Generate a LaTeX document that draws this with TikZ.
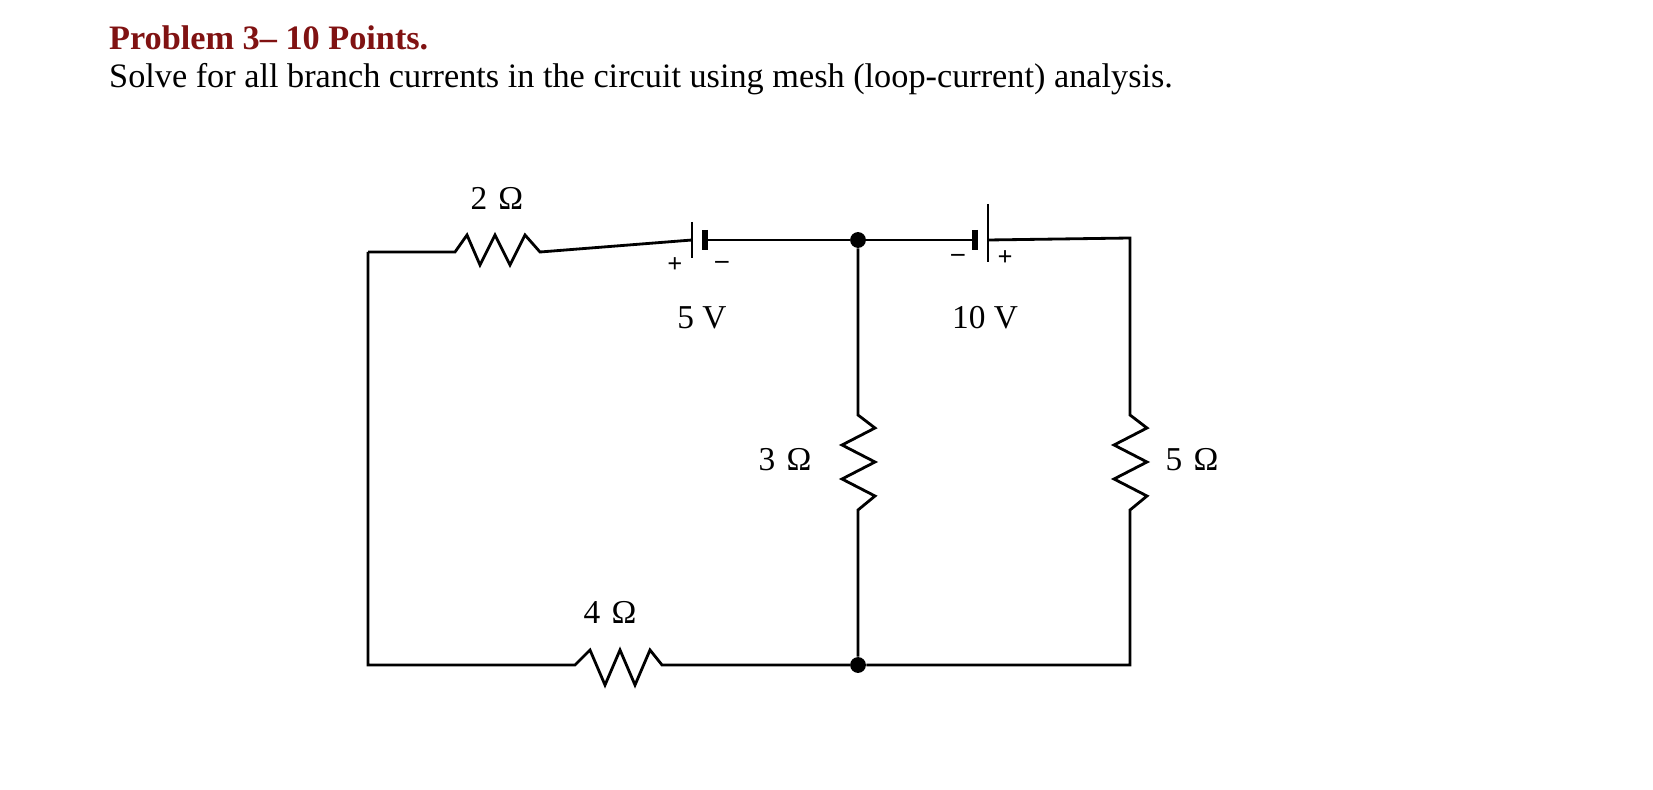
\documentclass[tikz,border=0pt]{standalone}
\usepackage{fontspec}
\setmainfont{Liberation Serif}
\definecolor{titlered}{RGB}{128,18,18}
\tikzset{
  wire/.style={line width=1.6pt},
  lbl/.style={font=\fontsize{19}{22}\selectfont},
  sign/.style={font=\fontsize{15}{17}\selectfont\bfseries},
  dot/.style={circle,fill,inner sep=0pt,minimum size=9pt},
}
\begin{document}
\begin{tikzpicture}[x=0.02cm,y=-0.02cm]
  \useasboundingbox (0,0) rectangle (1653,790);
  \node[anchor=base west,text=titlered,font=\fontsize{19.5}{22}\selectfont\bfseries] (title) at (103,50) {Problem 3– 10 Points.};
  \node[anchor=base west,font=\fontsize{19.5}{22}\selectfont] (task) at (103,88) {Solve for all branch currents in the circuit using mesh (loop-current) analysis.};
  % corners and junctions
  \coordinate (tl) at (368,252);
  \coordinate (bl) at (368,665);
  \coordinate (tr) at (1130,238);
  \coordinate (br) at (1130,665);
  \node[dot] (ntop) at (858,240) {};
  \node[dot] (nbot) at (858,665) {};
  % left loop
  \draw[wire] (tl) -- (455,252) -- (467,235) -- (480,265) -- (495,235) -- (510,265) -- (525,235) -- (540,252) -- (692,240);
  \draw[wire] (692,222) -- (692,258);
  \draw[line width=3pt] (705,230) -- (705,250);
  \draw[wire] (705,240) -- (ntop);
  \draw[wire] (tl) -- (bl) -- (575,665) -- (590,650) -- (605,685) -- (620,650) -- (635,685) -- (650,650) -- (662,665) -- (nbot);
  % middle branch
  \draw[wire] (ntop) -- (858,415) -- (875,428) -- (842,445) -- (875,462) -- (842,479) -- (875,496) -- (858,510) -- (nbot);
  % right loop
  \draw[wire] (ntop) -- (975,240);
  \draw[line width=3pt] (975,230) -- (975,250);
  \draw[wire] (988,204) -- (988,262);
  \draw[wire] (988,240) -- (tr) -- (1130,415) -- (1147,428) -- (1114,445) -- (1147,462) -- (1114,479) -- (1147,496) -- (1130,510) -- (br) -- (nbot);
  % labels
  \node[lbl] (r2) at (497,198) {2\,\,Ω};
  \node[lbl] (r4) at (610,612) {4\,\,Ω};
  \node[lbl] (r3) at (785,460) {3\,\,Ω};
  \node[lbl] (r5) at (1192,460) {5\,\,Ω};
  \node[lbl] (v5) at (702,318) {5 V};
  \node[lbl] (v10) at (985,318) {10 V};
  \node[sign] (p5) at (675,265) {+};
  \node[sign] (m5) at (722,265) {–};
  \node[sign] (m10) at (958,258) {–};
  \node[sign] (p10) at (1005,258) {+};
\end{tikzpicture}
\end{document}
